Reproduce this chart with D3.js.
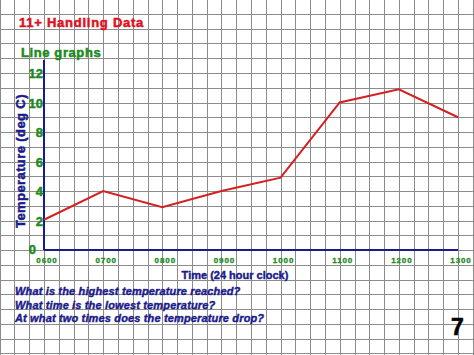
<!DOCTYPE html>
<html>
<head>
<meta charset="utf-8">
<script src="https://cdn.jsdelivr.net/npm/d3@7"></script>
<style>
  body { margin: 0; background: #fff; }
  svg { display: block; font-family: Arial, "Liberation Sans", sans-serif; }
</style>
</head>
<body>
<div id="chart-area"></div>
<script>
// data
var times = ["0600", "0700", "0800", "0900", "1000", "1100", "1200", "1300"];
var hours = [6, 7, 8, 9, 10, 11, 12, 13];
var temps = [2.05, 4, 2.9, 4, 4.9, 10, 10.9, 9];
var yTicks = [0, 2, 4, 6, 8, 10, 12];
var questions = [
    "What is the highest temperature reached?",
    "What time is the lowest temperature?",
    "At what two times does the temperature drop?"
];

var width = 474, height = 355;
var navy = "#1a1a8a", green = "#1c8a1c";

var svg = d3.select("#chart-area")
    .append("svg")
        .attr("width", width)
        .attr("height", height);

// scales
var x = d3.scaleLinear()
    .domain([6, 13])
    .range([44, 458]);

var y = d3.scaleLinear()
    .domain([0, 12])
    .range([250, 73]);

// squared paper background (quarter hour by one degree)
var gridX = d3.range(5.25, 14.01, 0.25);
var gridY = d3.range(-7, 18, 1);

svg.append("g")
    .selectAll("line")
    .data(gridX)
    .enter().append("line")
        .attr("x1", function(d) { return Math.round(x(d)) + 0.5; })
        .attr("x2", function(d) { return Math.round(x(d)) + 0.5; })
        .attr("y1", 0)
        .attr("y2", height)
        .attr("stroke", "#8c8c8c")
        .attr("stroke-width", 1);

svg.append("g")
    .selectAll("line")
    .data(gridY)
    .enter().append("line")
        .attr("y1", function(d) { return Math.round(y(d)) + 0.5; })
        .attr("y2", function(d) { return Math.round(y(d)) + 0.5; })
        .attr("x1", 0)
        .attr("x2", width)
        .attr("stroke", "#8c8c8c")
        .attr("stroke-width", 1);

// heavy text helper (the original uses a chunkier bold face)
function heavy(sel, color, sw) {
    return sel
        .attr("font-weight", "bold")
        .attr("fill", color)
        .attr("stroke", color)
        .attr("stroke-width", sw)
        .attr("paint-order", "stroke");
}

// titles
heavy(svg.append("text"), "#e01020", 0.5)
    .attr("x", 19)
    .attr("y", 27)
    .attr("font-size", "13px")
    .attr("letter-spacing", "0.75px")
    .text("11+ Handling Data");

heavy(svg.append("text"), green, 0.5)
    .attr("x", 21)
    .attr("y", 57)
    .attr("font-size", "13px")
    .attr("letter-spacing", "0.6px")
    .text("Line graphs");

// axes lines
svg.append("line")
    .attr("x1", x(6)).attr("x2", x(6))
    .attr("y1", 60).attr("y2", y(0))
    .attr("stroke", navy)
    .attr("stroke-width", 2);

svg.append("line")
    .attr("x1", x(6)).attr("x2", x(13))
    .attr("y1", y(0)).attr("y2", y(0))
    .attr("stroke", navy)
    .attr("stroke-width", 2);

// y tick labels
heavy(svg.append("g"), green, 0.5)
    .selectAll("text")
    .data(yTicks)
    .enter().append("text")
        .attr("x", function(d) { return d === 0 ? 36 : 43; })
        .attr("y", function(d) { return y(d) + (d === 0 ? 4 : 5); })
        .attr("text-anchor", "end")
        .attr("font-size", "13px")
        .text(function(d) { return d; });

// x tick labels
heavy(svg.append("g"), green, 0.3)
    .selectAll("text")
    .data(times)
    .enter().append("text")
        .attr("x", function(d, i) { return x(hours[i]) + 3; })
        .attr("y", 263)
        .attr("text-anchor", "middle")
        .attr("font-size", "8px")
        .attr("letter-spacing", "0.9px")
        .text(function(d) { return d; });

// axis titles
heavy(svg.append("text"), navy, 0.5)
    .attr("transform", "rotate(-90)")
    .attr("x", -161)
    .attr("y", 25)
    .attr("text-anchor", "middle")
    .attr("font-size", "13px")
    .attr("letter-spacing", "0.4px")
    .text("Temperature (deg C)");

heavy(svg.append("text"), navy, 0.4)
    .attr("x", 235)
    .attr("y", 279)
    .attr("text-anchor", "middle")
    .attr("font-size", "11px")
    .text("Time (24 hour clock)");

// the line
var line = d3.line()
    .x(function(d, i) { return x(hours[i]); })
    .y(function(d) { return y(d); });

svg.append("path")
    .datum(temps)
    .attr("d", line)
    .attr("fill", "none")
    .attr("stroke", "#d42020")
    .attr("stroke-width", 2);

// questions
heavy(svg.append("g"), navy, 0.4)
    .selectAll("text")
    .data(questions)
    .enter().append("text")
        .attr("x", 15)
        .attr("y", function(d, i) { return 295 + i * 13.5; })
        .attr("font-size", "11px")
        .attr("font-style", "italic")
        .attr("letter-spacing", "0.15px")
        .text(function(d) { return d; });

// page number
heavy(svg.append("text"), "#000", 0.6)
    .attr("x", 451)
    .attr("y", 335)
    .attr("font-size", "23px")
    .text("7");
</script>
</body>
</html>
